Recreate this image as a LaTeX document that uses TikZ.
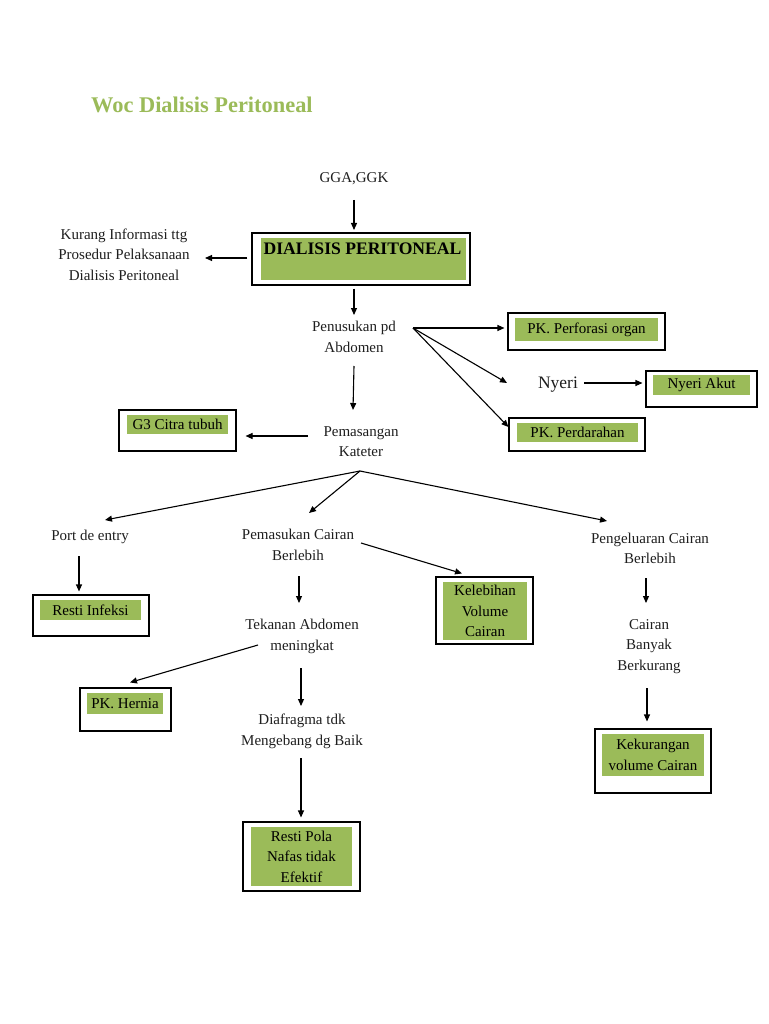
\documentclass[tikz,border=0pt]{standalone}
\usepackage{fontspec}
\setmainfont{Liberation Serif}
\usetikzlibrary{arrows.meta,calc}
\definecolor{olive}{HTML}{9BBB59}
\definecolor{ink}{HTML}{1E1E1E}
\begin{document}
\begin{tikzpicture}[x=1pt,y=-1pt,
  txt/.style={inner sep=0pt,align=center,text=ink,font=\fontsize{15}{20.5}\selectfont},
  outerbox/.style={draw=black,line width=1.1pt,fill=white,inner sep=0pt},
  greenbox/.style={fill=olive,inner sep=0pt,align=center,text=black,font=\fontsize{15}{20.5}\selectfont},
  arr/.style={line width=1.1pt,draw=black,-{Triangle[length=7pt,width=6pt]}}]
\path[use as bounding box,fill=white] (0,0) rectangle (768,1024);

% title
\node[anchor=west,inner sep=0pt,text=olive,font=\fontsize{22.4}{26}\selectfont\bfseries] (title) at (91,105) {Woc Dialisis Peritoneal};

% text nodes
\node[txt] (gga) at (354,179) {GGA,GGK};
\node[txt] (kurang) at (124,254.5) {Kurang Informasi ttg\\Prosedur Pelaksanaan\\Dialisis Peritoneal};
\node[txt] (pen) at (354,337) {Penusukan pd\\Abdomen};
\node[txt,font=\fontsize{17.5}{21}\selectfont] (nyeri) at (558,385) {Nyeri};
\node[txt] (pem) at (361,441.5) {Pemasangan\\Kateter};
\node[txt] (port) at (90,537) {Port de entry};
\node[txt] (masuk) at (298,545) {Pemasukan Cairan\\Berlebih};
\node[txt] (tekanan) at (302,636.5) {Tekanan Abdomen\\meningkat};
\node[txt] (diaf) at (302,731.5) {Diafragma tdk\\Mengebang dg Baik};
\node[txt] (keluar) at (650,548.5) {Pengeluaran Cairan\\Berlebih};
\node[txt] (banyak) at (649,646.5) {Cairan\\Banyak\\Berkurang};

% boxes
\node[outerbox,minimum width=218pt,minimum height=52pt] (dp) at (361,259) {};
\node[greenbox,minimum width=205pt,minimum height=42pt] (dpg) at (363.5,259) {};
\node[inner sep=0pt,text=black,font=\fontsize{17.6}{20}\selectfont\bfseries] (dpt) at (362.5,249) {DIALISIS PERITONEAL};

\node[outerbox,minimum width=157pt,minimum height=37pt] (perf) at (586.5,331.5) {};
\node[greenbox,minimum width=143pt,minimum height=23pt] (perfg) at (586.5,329.5) {PK. Perforasi organ};

\node[outerbox,minimum width=111pt,minimum height=36pt] (akut) at (701.5,389) {};
\node[greenbox,minimum width=97pt,minimum height=20pt] (akutg) at (701.5,385) {Nyeri Akut};

\node[outerbox,minimum width=136pt,minimum height=33pt] (perd) at (577,434.5) {};
\node[greenbox,minimum width=121pt,minimum height=19pt] (perdg) at (577.5,432.5) {PK. Perdarahan};

\node[outerbox,minimum width=117pt,minimum height=41pt] (citra) at (177.5,430.5) {};
\node[greenbox,minimum width=101pt,minimum height=19pt] (citrag) at (177.5,424.5) {G3 Citra tubuh};

\node[outerbox,minimum width=116pt,minimum height=41pt] (infeksi) at (91,615.5) {};
\node[greenbox,minimum width=101pt,minimum height=20pt] (infeksig) at (90.5,610) {Resti Infeksi};

\node[outerbox,minimum width=97pt,minimum height=67pt] (lebih) at (484.5,610.5) {};
\node[greenbox,minimum width=84pt,minimum height=58pt] (lebihg) at (485,611) {Kelebihan\\Volume\\Cairan};

\node[outerbox,minimum width=91pt,minimum height=43pt] (hernia) at (125.5,709.5) {};
\node[greenbox,minimum width=76pt,minimum height=21pt] (herniag) at (125,703.5) {PK. Hernia};

\node[outerbox,minimum width=117pt,minimum height=69pt] (pola) at (301.5,856.5) {};
\node[greenbox,minimum width=101pt,minimum height=59pt] (polag) at (301.5,856.5) {Resti Pola\\Nafas tidak\\Efektif};

\node[outerbox,minimum width=116pt,minimum height=64pt] (kurangv) at (653,761) {};
\node[greenbox,minimum width=102pt,minimum height=42pt] (kurangvg) at (653,755) {Kekurangan\\volume Cairan};

% connectors
\draw[arr] ($(gga)+(0,21)$) -- ($(gga)+(0,51)$);
\draw[arr] ($(dp.west)+(-4,-1)$) -- ($(kurang)+(81,3.5)$);
\draw[arr] ($(dp.south)+(-7,3)$) -- ($(pen)+(0,-22)$);
\draw[arr] ($(pen)+(59,-9)$) -- ($(perf.west)+(-3,-3.5)$);
\draw[arr] ($(pen)+(59,-9)$) -- ($(nyeri)+(-51,-2)$);
\draw[arr] ($(pen)+(59,-9)$) -- ($(perd.west)+(0,-7.5)$);
\draw[arr] ($(nyeri)+(26,-2)$) -- ($(akut.west)+(-3,-6)$);
\draw[arr] ($(pen)+(0,29)$) -- ($(pem)+(-8,-31.5)$);
\draw[arr] ($(pem)+(-53,-5.5)$) -- ($(citra.east)+(9,5.5)$);
\coordinate (br) at ($(pem)+(-1,29.5)$);
\draw[arr] (br) -- ($(port)+(15,-17)$);
\draw[arr] (br) -- ($(masuk)+(11,-32)$);
\draw[arr] (br) -- ($(keluar)+(-43,-27.5)$);
\draw[arr] ($(port)+(-11,19)$) -- ($(infeksi.north)+(-12,-3)$);
\draw[arr] ($(masuk)+(63,-2)$) -- ($(lebih.north)+(-22.5,-3)$);
\draw[arr] ($(masuk)+(1,31)$) -- ($(tekanan)+(-3,-33.5)$);
\draw[arr] ($(tekanan)+(-44,8.5)$) -- ($(hernia.north)+(4.5,-5)$);
\draw[arr] ($(tekanan)+(-1,31.5)$) -- ($(diaf)+(-1,-25.5)$);
\draw[arr] ($(diaf)+(-1,26.5)$) -- ($(pola.north)+(-0.5,-4)$);
\draw[arr] ($(keluar)+(-4,29.5)$) -- ($(banyak)+(-3,-43.5)$);
\draw[arr] ($(banyak)+(-2,41.5)$) -- ($(kurangv.north)+(-6,-7)$);
\end{tikzpicture}
\end{document}
